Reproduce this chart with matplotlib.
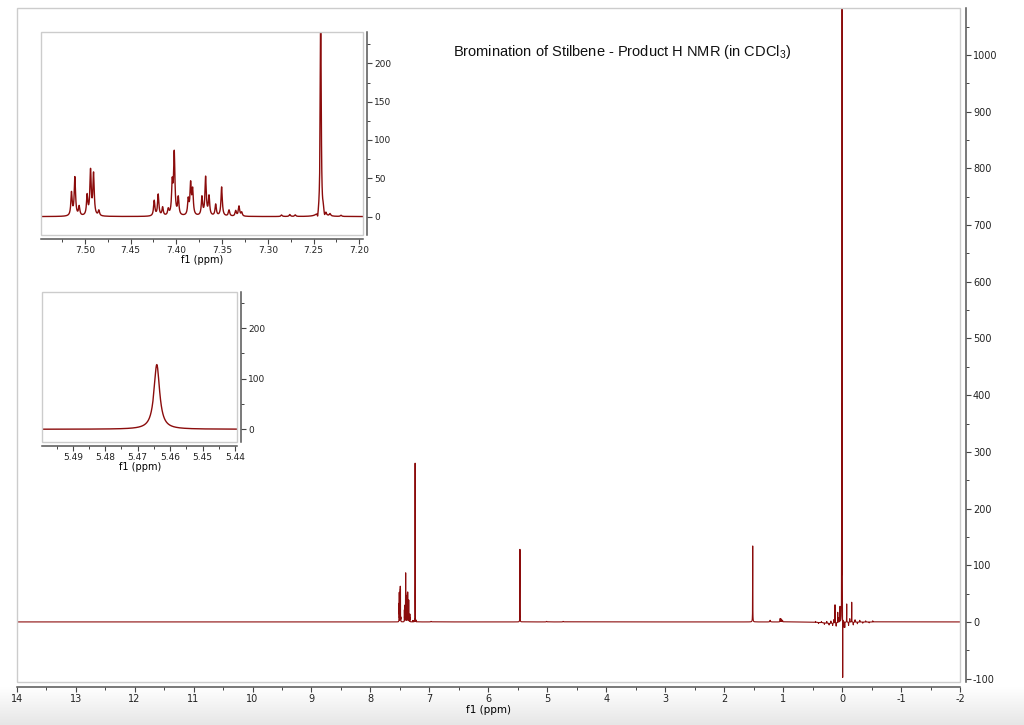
import numpy as np
import matplotlib
matplotlib.use('Agg')
import matplotlib.pyplot as plt
from matplotlib.patches import Rectangle
from matplotlib.ticker import MultipleLocator, FormatStrFormatter
from matplotlib.colors import LinearSegmentedColormap

plt.rcParams['font.family'] = ['DejaVu Sans']
plt.rcParams['axes.unicode_minus'] = False

# peak lists (ppm, height)
arom_ppm = [7.5146, 7.5109, 7.5062, 7.4975, 7.4938, 7.4905, 7.4847,
            7.4242, 7.4198, 7.4150, 7.4088, 7.4045, 7.4023, 7.3979,
            7.3870, 7.3844, 7.3822, 7.3720, 7.3680, 7.3643, 7.3570,
            7.3505, 7.3424, 7.3351, 7.3315, 7.3286,
            7.285, 7.276, 7.270, 7.232, 7.220]
arom_height = [30, 50, 12, 26, 58, 54, 7,
               20, 28, 11, 8, 40, 80, 23,
               20, 40, 32, 24, 50, 25, 15,
               38, 8, 7, 13, 5,
               2, 2.5, 2, 3, 1.5]

solvent_ppm = [7.2422, 7.2455, 7.2395, 7.2380, 7.2365]
solvent_height = [280, -8, 6, -4, 3]

methine_ppm = [5.4641]
methine_height = [128]

aliph_ppm = [1.516, 1.22, 1.05, 1.03, 1.01, 6.97, 5.01, 4.73]
aliph_height = [134, 3, 6, 5, 3, 1, 1, 1]
aliph_width = [0.003, 0.01, 0.006, 0.006, 0.006, 0.01, 0.01, 0.01]

tms_ppm = [0.000, 0.008, -0.010, 0.120, 0.074, 0.035, -0.078, -0.163,
           -0.020, -0.045,
           0.45, 0.40, 0.35, 0.30, 0.26, 0.22, 0.19, 0.16, 0.14, 0.10, 0.055,
           -0.11, -0.13, -0.19, -0.22, -0.26, -0.30, -0.35, -0.40, -0.46, -0.52,
           0.20]
tms_height = [3000, 360, -114, 32, 18, 27, 32, 35,
              -12, -10,
              1.5, -2, 2, -2.5, 3, -3, 4, -4, 6, -6, 8,
              -6, 6, -5, 4, -3, 3, -2, 2, -1.5, 2,
              -2.5]
tms_width = [0.0015, 0.0015, 0.0015, 0.002, 0.002, 0.002, 0.002, 0.002,
             0.004, 0.004,
             0.004, 0.004, 0.004, 0.004, 0.004, 0.004, 0.004, 0.004, 0.004, 0.004, 0.004,
             0.004, 0.004, 0.004, 0.004, 0.004, 0.004, 0.004, 0.004, 0.004, 0.004,
             0.3]

peak_ppm = arom_ppm + solvent_ppm + methine_ppm + aliph_ppm + tms_ppm
peak_height = arom_height + solvent_height + methine_height + aliph_height + tms_height
peak_width = ([0.0017] * len(arom_ppm) + [0.0012] * len(solvent_ppm) + [0.0021]
              + aliph_width + tms_width)

title = 'Bromination of Stilbene - Product H NMR (in CDCl$_\\mathregular{3}$)'
red = '#8b0c0c'


def spectrum(x):
    y = np.zeros_like(x)
    for p, h, w in zip(peak_ppm, peak_height, peak_width):
        y += h / (1.0 + ((x - p) / (w / 2)) ** 2)
    return y


def style(ax, off_b, off_r, fs=6.5):
    for s in ['top', 'left']:
        ax.spines[s].set_visible(False)
    ax.spines['bottom'].set_position(('outward', off_b))
    ax.spines['right'].set_position(('outward', off_r))
    for s in ['bottom', 'right']:
        ax.spines[s].set_color('#555555')
        ax.spines[s].set_linewidth(1.1)
    ax.yaxis.tick_right()
    ax.add_patch(Rectangle((0, 0), 1, 1, transform=ax.transAxes, fill=False,
                           ec='#cccccc', lw=1.0, clip_on=False, zorder=5))
    ax.tick_params(which='major', direction='out', length=3.5, width=0.8,
                   color='#444444', labelsize=fs, pad=1.5, labelcolor='#222222')
    ax.tick_params(which='minor', direction='out', length=2, width=0.7,
                   color='#444444')
    ax.xaxis.label.set_size(fs + 0.5)


fig = plt.figure(figsize=(10.24, 7.25), dpi=100)

# bottom window gradient
bg = fig.add_axes([0, 0, 1, 0.052], zorder=-5)
cm = LinearSegmentedColormap.from_list('g', ['#ffffff', '#e6e6e6'])
bg.imshow(np.linspace(0, 1, 64)[:, None], aspect='auto', cmap=cm)
bg.axis('off')

# main spectrum
ax = fig.add_axes([0.0163, 0.0593, 0.9212, 0.9297])
x = np.linspace(-2, 14, 320001)
ax.plot(x, spectrum(x), color=red, lw=0.8)
ax.set_xlim(14, -2)
ax.set_ylim(-106, 1083)
style(ax, 3.6, 4.3, fs=7)
ax.xaxis.set_major_locator(MultipleLocator(1))
ax.xaxis.set_minor_locator(MultipleLocator(0.5))
ax.yaxis.set_major_locator(MultipleLocator(100))
ax.yaxis.set_minor_locator(MultipleLocator(50))
ax.set_xlabel('f1 (ppm)', labelpad=1)

fig.text(0.6074, 0.928, title, ha='center', va='center', fontsize=10.5,
         family=['Liberation Sans', 'DejaVu Sans'], color='#111111')

# inset: aromatic region
ax1 = fig.add_axes([0.0400, 0.6759, 0.3145, 0.2800])
x1 = np.linspace(7.19, 7.56, 40001)
ax1.plot(x1, spectrum(x1), color=red, lw=1.0)
ax1.set_xlim(7.548, 7.196)
ax1.set_ylim(-24, 241)
style(ax1, 2.9, 2.9)
ax1.xaxis.set_major_locator(MultipleLocator(0.05))
ax1.xaxis.set_minor_locator(MultipleLocator(0.025))
ax1.xaxis.set_major_formatter(FormatStrFormatter('%.2f'))
ax1.yaxis.set_major_locator(MultipleLocator(50))
ax1.yaxis.set_minor_locator(MultipleLocator(25))
ax1.set_xlabel('f1 (ppm)', labelpad=0)

# inset: methine singlet
ax2 = fig.add_axes([0.0413, 0.3908, 0.1904, 0.2060])
x2 = np.linspace(5.43, 5.51, 20001)
ax2.plot(x2, spectrum(x2), color=red, lw=1.0)
ax2.set_xlim(5.4994, 5.4393)
ax2.set_ylim(-24.6, 271)
style(ax2, 2.9, 2.9)
ax2.xaxis.set_major_locator(MultipleLocator(0.01))
ax2.xaxis.set_minor_locator(MultipleLocator(0.005))
ax2.xaxis.set_major_formatter(FormatStrFormatter('%.2f'))
ax2.yaxis.set_major_locator(MultipleLocator(100))
ax2.yaxis.set_minor_locator(MultipleLocator(50))
ax2.set_xlabel('f1 (ppm)', labelpad=0)

fig.savefig('out.png', dpi=100)
